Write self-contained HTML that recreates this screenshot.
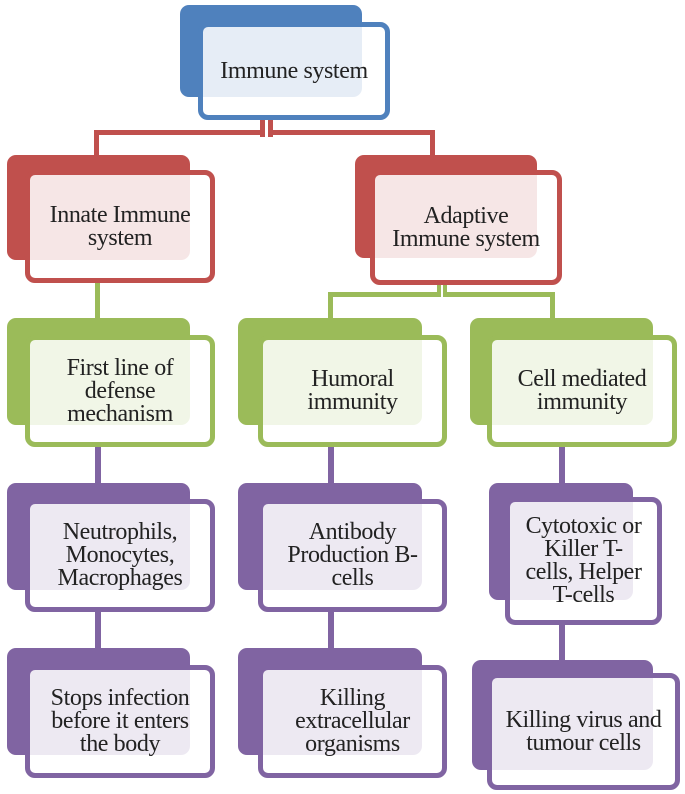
<!DOCTYPE html>
<html><head><meta charset="utf-8"><style>
html,body{margin:0;padding:0;background:#fff;}
body{width:685px;height:794px;position:relative;overflow:hidden;font-family:"Liberation Serif",serif;}
.b{position:absolute;border-radius:9px;}
.f{position:absolute;border-radius:10px;border:5px solid;box-sizing:border-box;background:rgba(255,255,255,0.86);display:flex;align-items:center;justify-content:center;text-align:center;font-size:24px;line-height:23px;letter-spacing:-0.4px;color:#222;white-space:nowrap;}
.l{position:absolute;}
</style></head><body>
<!-- connectors -->
<div class="l" style="left:260px;top:118px;width:5px;height:19px;background:#c0504d"></div>
<div class="l" style="left:268px;top:118px;width:5px;height:19px;background:#c0504d"></div>
<div class="l" style="left:94px;top:130px;width:171px;height:5px;background:#c0504d"></div>
<div class="l" style="left:268px;top:130px;width:167px;height:5px;background:#c0504d"></div>
<div class="l" style="left:94px;top:130px;width:5px;height:26px;background:#c0504d"></div>
<div class="l" style="left:430px;top:130px;width:5px;height:26px;background:#c0504d"></div>

<div class="l" style="left:95px;top:283px;width:5px;height:36px;background:#9bbb59"></div>
<div class="l" style="left:437px;top:283px;width:4px;height:14px;background:#9bbb59"></div>
<div class="l" style="left:443px;top:283px;width:4px;height:14px;background:#9bbb59"></div>
<div class="l" style="left:328px;top:292px;width:113px;height:5px;background:#9bbb59"></div>
<div class="l" style="left:443px;top:292px;width:112px;height:5px;background:#9bbb59"></div>
<div class="l" style="left:328px;top:292px;width:5px;height:27px;background:#9bbb59"></div>
<div class="l" style="left:550px;top:292px;width:5px;height:27px;background:#9bbb59"></div>

<div class="l" style="left:95px;top:447px;width:6px;height:37px;background:#8064a2"></div>
<div class="l" style="left:328px;top:447px;width:6px;height:37px;background:#8064a2"></div>
<div class="l" style="left:559px;top:447px;width:6px;height:37px;background:#8064a2"></div>
<div class="l" style="left:95px;top:612px;width:6px;height:37px;background:#8064a2"></div>
<div class="l" style="left:328px;top:612px;width:6px;height:37px;background:#8064a2"></div>
<div class="l" style="left:559px;top:625px;width:6px;height:36px;background:#8064a2"></div>

<!-- top -->
<div class="b" style="left:180px;top:5px;width:182px;height:92px;background:#4f81bd"></div>
<div class="f" style="left:198px;top:22px;width:192px;height:98px;border-color:#4f81bd">Immune system</div>
<!-- red -->
<div class="b" style="left:7px;top:155px;width:183px;height:105px;background:#c0504d"></div>
<div class="f" style="left:25px;top:170px;width:190px;height:113px;border-color:#c0504d">Innate Immune<br>system</div>
<div class="b" style="left:355px;top:155px;width:182px;height:103px;background:#c0504d"></div>
<div class="f" style="left:370px;top:170px;width:192px;height:115px;border-color:#c0504d">Adaptive<br>Immune system</div>
<!-- green -->
<div class="b" style="left:7px;top:318px;width:183px;height:107px;background:#9bbb59"></div>
<div class="f" style="left:25px;top:335px;width:190px;height:112px;border-color:#9bbb59">First line of<br>defense<br>mechanism</div>
<div class="b" style="left:238px;top:318px;width:184px;height:107px;background:#9bbb59"></div>
<div class="f" style="left:258px;top:335px;width:189px;height:112px;border-color:#9bbb59">Humoral<br>immunity</div>
<div class="b" style="left:470px;top:318px;width:183px;height:107px;background:#9bbb59"></div>
<div class="f" style="left:487px;top:335px;width:190px;height:112px;border-color:#9bbb59">Cell mediated<br>immunity</div>
<!-- purple row1 -->
<div class="b" style="left:7px;top:483px;width:183px;height:107px;background:#8064a2"></div>
<div class="f" style="left:25px;top:499px;width:190px;height:113px;border-color:#8064a2">Neutrophils,<br>Monocytes,<br>Macrophages</div>
<div class="b" style="left:238px;top:483px;width:184px;height:107px;background:#8064a2"></div>
<div class="f" style="left:258px;top:499px;width:189px;height:113px;border-color:#8064a2">Antibody<br>Production B-<br>cells</div>
<div class="b" style="left:489px;top:483px;width:144px;height:117px;background:#8064a2"></div>
<div class="f" style="left:505px;top:497px;width:157px;height:128px;border-color:#8064a2">Cytotoxic or<br>Killer T-<br>cells, Helper<br>T-cells</div>
<!-- purple row2 -->
<div class="b" style="left:7px;top:648px;width:183px;height:107px;background:#8064a2"></div>
<div class="f" style="left:25px;top:665px;width:190px;height:113px;border-color:#8064a2">Stops infection<br>before it enters<br>the body</div>
<div class="b" style="left:238px;top:648px;width:184px;height:107px;background:#8064a2"></div>
<div class="f" style="left:258px;top:665px;width:189px;height:113px;border-color:#8064a2">Killing<br>extracellular<br>organisms</div>
<div class="b" style="left:472px;top:660px;width:181px;height:110px;background:#8064a2"></div>
<div class="f" style="left:487px;top:673px;width:193px;height:117px;border-color:#8064a2">Killing virus and<br>tumour cells</div>
</body></html>
